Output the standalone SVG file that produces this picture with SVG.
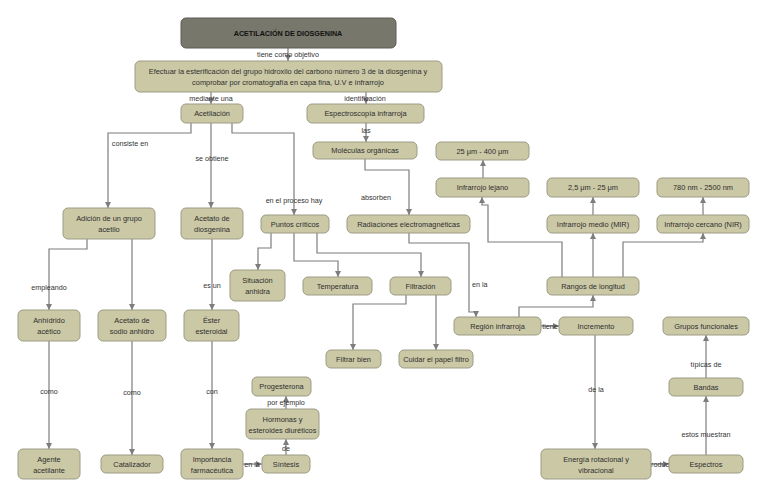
<svg xmlns="http://www.w3.org/2000/svg" width="768" height="498" viewBox="0 0 768 498">
<defs>
<marker id="ah" viewBox="0 0 10 10" refX="10" refY="5" markerWidth="6" markerHeight="6" orient="auto" markerUnits="userSpaceOnUse">
<path d="M0,0 L10,5 L0,10 z" fill="#7d7d7d"/>
</marker>
<style>
.n rect{fill:#cbc8a6;stroke:#9d9b84;stroke-width:1}
.t rect{fill:#77776c;stroke:#5c5c54;stroke-width:1}
text{font-family:"Liberation Sans",Arial,sans-serif;font-size:7.4px;fill:#2e2e2e;text-anchor:middle}
.tt{font-weight:bold;font-size:7.2px;fill:#111}
.l{font-size:7.2px;fill:#333}
#connectors path{fill:none;stroke:#7d7d7d;stroke-width:1.2;marker-end:url(#ah)}
</style>
</defs>
<rect width="768" height="498" fill="#ffffff"/>
<g id="connectors">
<path d="M288,48 V61"/>
<path d="M211,92 V104"/>
<path d="M366,92 V104"/>
<path d="M191,122 V133 H108 V208"/>
<path d="M211,122 V208"/>
<path d="M232,122 V133 H294 V215"/>
<path d="M366,123 V142"/>
<path d="M365,159 V170 H409 V215"/>
<path d="M409,233 V243 H469 V312 H476 V317"/>
<path d="M562,277 V242 H488 V205 H482 V197"/>
<path d="M593,277 V233"/>
<path d="M623,277 V242 H703 V233"/>
<path d="M483,178 V160"/>
<path d="M593,215 V197"/>
<path d="M703,215 V197"/>
<path d="M519,317 V307 H593 V295"/>
<path d="M541,326 H559"/>
<path d="M595,335 V449"/>
<path d="M651,464 H669"/>
<path d="M706,455 V396"/>
<path d="M706,378 V335"/>
<path d="M87,239 V249 H49 V310"/>
<path d="M132,239 V310"/>
<path d="M212,239 V310"/>
<path d="M271,233 V248 H258 V270"/>
<path d="M294,233 V261 H338 V277"/>
<path d="M317,233 V253 H421 V277"/>
<path d="M406,295 V304 H353 V350"/>
<path d="M436,295 V350"/>
<path d="M49,341 V449"/>
<path d="M132,341 V455"/>
<path d="M212,341 V449"/>
<path d="M243,464 H262"/>
<path d="M286,455 V439"/>
<path d="M286,409 V396"/>
</g>
<g id="labels">
<text class="l" x="288" y="56.5">tiene como objetivo</text>
<text class="l" x="211" y="100.5">mediante una</text>
<text class="l" x="365" y="100.5">identificación</text>
<text class="l" x="366" y="132.5">las</text>
<text class="l" x="130" y="145.5">consiste en</text>
<text class="l" x="212" y="160.5">se obtiene</text>
<text class="l" x="294" y="202.5">en el proceso hay</text>
<text class="l" x="376" y="199.5">absorben</text>
<text class="l" x="472" y="286.5" style="text-anchor:start">en la</text>
<text class="l" x="49" y="289.5">empleando</text>
<text class="l" x="212" y="287.5">es un</text>
<text class="l" x="49" y="393.5">como</text>
<text class="l" x="132" y="394.5">como</text>
<text class="l" x="212" y="393.5">con</text>
<text class="l" x="286" y="450.5">de</text>
<text class="l" x="286" y="404.5">por ejemplo</text>
<text class="l" x="252" y="466.5">en la</text>
<text class="l" x="550" y="328.5">tiene</text>
<text class="l" x="596" y="391.5">de la</text>
<text class="l" x="660" y="466.5">produce</text>
<text class="l" x="706" y="436.5">estos muestran</text>
<text class="l" x="706" y="366.5">típicas de</text>
</g>
<g id="n-title" class="t"><rect x="181" y="18" width="215" height="30" rx="5"/><text class="tt" x="288" y="35.5">ACETILACIÓN DE DIOSGENINA</text></g>
<g id="n-objetivo" class="n"><rect x="135" y="61" width="307" height="31" rx="5"/><text x="288" y="74">Efectuar la esterificación del grupo hidroxilo del carbono número 3 de la diosgenina y</text><text x="288" y="85">comprobar por cromatografía en capa fina, U.V e infrarrojo</text></g>
<g id="n-acetilacion" class="n"><rect x="181" y="104" width="62" height="19" rx="5"/><text x="212" y="116">Acetilación</text></g>
<g id="n-espectroscopia" class="n"><rect x="307" y="104" width="117" height="19" rx="5"/><text x="365.5" y="116">Espectroscopía infrarroja</text></g>
<g id="n-moleculas" class="n"><rect x="313" y="142" width="104" height="17" rx="5"/><text x="365" y="153">Moléculas orgánicas</text></g>
<g id="n-adicion" class="n"><rect x="63" y="208" width="92" height="31" rx="5"/><text x="109" y="221">Adición de un grupo</text><text x="109" y="232">acetilo</text></g>
<g id="n-acetato-dios" class="n"><rect x="181" y="208" width="62" height="31" rx="5"/><text x="212" y="221">Acetato de</text><text x="212" y="232">diosgenina</text></g>
<g id="n-puntos" class="n"><rect x="261" y="215" width="68" height="18" rx="5"/><text x="295" y="226.5">Puntos críticos</text></g>
<g id="n-radiaciones" class="n"><rect x="347" y="215" width="123" height="18" rx="5"/><text x="408.5" y="226.5">Radiaciones electromagnéticas</text></g>
<g id="n-25-400" class="n"><rect x="436" y="142" width="93" height="18" rx="5"/><text x="482.5" y="153.5">25 μm - 400 μm</text></g>
<g id="n-lejano" class="n"><rect x="436" y="178" width="93" height="19" rx="5"/><text x="482.5" y="190">Infrarrojo lejano</text></g>
<g id="n-25-25" class="n"><rect x="547" y="178" width="92" height="19" rx="5"/><text x="593" y="190">2,5 μm - 25 μm</text></g>
<g id="n-780" class="n"><rect x="657" y="178" width="92" height="19" rx="5"/><text x="703" y="190">780 nm - 2500 nm</text></g>
<g id="n-mir" class="n"><rect x="547" y="215" width="92" height="18" rx="5"/><text x="593" y="226.5">Infrarrojo medio (MIR)</text></g>
<g id="n-nir" class="n"><rect x="657" y="215" width="92" height="18" rx="5"/><text x="703" y="226.5">Infrarrojo cercano (NIR)</text></g>
<g id="n-rangos" class="n"><rect x="547" y="277" width="92" height="18" rx="5"/><text x="593" y="288.5">Rangos de longitud</text></g>
<g id="n-situacion" class="n"><rect x="230" y="270" width="55" height="31" rx="5"/><text x="257.5" y="283">Situación</text><text x="257.5" y="294">anhidra</text></g>
<g id="n-temperatura" class="n"><rect x="303" y="277" width="69" height="18" rx="5"/><text x="337.5" y="288.5">Temperatura</text></g>
<g id="n-filtracion" class="n"><rect x="390" y="277" width="61" height="18" rx="5"/><text x="420.5" y="288.5">Filtración</text></g>
<g id="n-filtrar" class="n"><rect x="326" y="350" width="55" height="18" rx="5"/><text x="353.5" y="361.5">Filtrar bien</text></g>
<g id="n-cuidar" class="n"><rect x="399" y="350" width="74" height="18" rx="5"/><text x="436" y="361.5">Cuidar el papel filtro</text></g>
<g id="n-region" class="n"><rect x="454" y="317" width="87" height="18" rx="5"/><text x="497.5" y="328.5">Región infrarroja</text></g>
<g id="n-incremento" class="n"><rect x="559" y="317" width="74" height="18" rx="5"/><text x="596" y="328.5">Incremento</text></g>
<g id="n-grupos" class="n"><rect x="663" y="317" width="86" height="18" rx="5"/><text x="706" y="328.5">Grupos funcionales</text></g>
<g id="n-bandas" class="n"><rect x="669" y="378" width="74" height="18" rx="5"/><text x="706" y="389.5">Bandas</text></g>
<g id="n-espectros" class="n"><rect x="669" y="455" width="74" height="18" rx="5"/><text x="706" y="466.5">Espectros</text></g>
<g id="n-energia" class="n"><rect x="541" y="449" width="110" height="30" rx="5"/><text x="596" y="461.5">Energía rotacional y</text><text x="596" y="472.5">vibracional</text></g>
<g id="n-anhidrido" class="n"><rect x="18" y="310" width="62" height="31" rx="5"/><text x="49" y="323">Anhídrido</text><text x="49" y="334">acético</text></g>
<g id="n-acetato-sodio" class="n"><rect x="98" y="310" width="68" height="31" rx="5"/><text x="132" y="323">Acetato de</text><text x="132" y="334">sodio anhidro</text></g>
<g id="n-ester" class="n"><rect x="184" y="310" width="55" height="31" rx="5"/><text x="211.5" y="323">Éster</text><text x="211.5" y="334">esteroidal</text></g>
<g id="n-agente" class="n"><rect x="18" y="449" width="62" height="30" rx="5"/><text x="49" y="461.5">Agente</text><text x="49" y="472.5">acetilante</text></g>
<g id="n-catalizador" class="n"><rect x="101" y="455" width="62" height="18" rx="5"/><text x="132" y="466.5">Catalizador</text></g>
<g id="n-importancia" class="n"><rect x="181" y="449" width="62" height="30" rx="5"/><text x="212" y="461.5">Importancia</text><text x="212" y="472.5">farmacéutica</text></g>
<g id="n-sintesis" class="n"><rect x="262" y="455" width="48" height="18" rx="5"/><text x="286" y="466.5">Síntesis</text></g>
<g id="n-hormonas" class="n"><rect x="246" y="409" width="73" height="30" rx="5"/><text x="282.5" y="421.5">Hormonas y</text><text x="282.5" y="432.5">esteroides diuréticos</text></g>
<g id="n-progesterona" class="n"><rect x="252" y="377" width="59" height="19" rx="5"/><text x="281.5" y="389">Progesterona</text></g>
</svg>
